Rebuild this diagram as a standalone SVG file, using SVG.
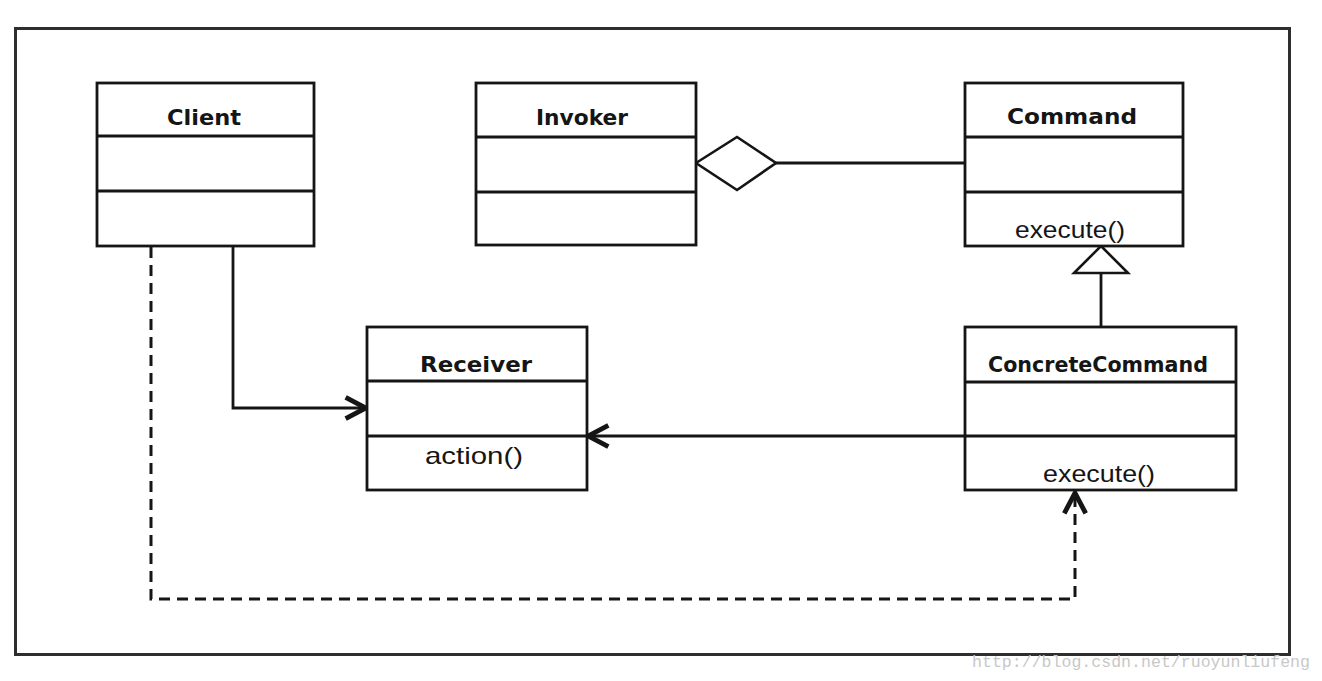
<svg xmlns="http://www.w3.org/2000/svg" width="1322" height="681" viewBox="0 0 1322 681">
<style>
.box{fill:#fff;stroke:#151515;stroke-width:2.8}
.div{stroke:#151515;stroke-width:2.8}
.title{font-family:"DejaVu Sans",sans-serif;font-weight:bold;font-size:22px;fill:#151515;text-anchor:middle}
.op{font-family:"Liberation Sans",Arial,sans-serif;font-size:24px;fill:#151515;text-anchor:middle}
.ln{fill:none;stroke:#151515;stroke-width:2.8}
.dash{fill:none;stroke:#151515;stroke-width:3;stroke-dasharray:11 7}
</style>
<defs>
<marker id="open" markerUnits="userSpaceOnUse" markerWidth="30" markerHeight="30" viewBox="-24 -14 28 28" refX="0" refY="0" orient="auto">
<polyline points="-19,-10 0,0 -19,10" fill="none" stroke="#151515" stroke-width="4.5" stroke-linejoin="miter"/>
</marker>
</defs>
<rect width="1322" height="681" fill="#fff"/>
<rect x="15.5" y="28.5" width="1274" height="626" fill="none" stroke="#2e2e2e" stroke-width="3"/>
<text x="1141" y="667" font-family="'Liberation Mono',monospace" font-size="17" fill="#c8c8c8" text-anchor="middle" textLength="338" lengthAdjust="spacingAndGlyphs">http://blog.csdn.net/ruoyunliufeng</text>
<g id="connectors">
<polyline class="ln" points="233,246 233,408 366,408" marker-end="url(#open)"/>
<line class="ln" x1="965" y1="436" x2="588" y2="436" marker-end="url(#open)"/>
<polyline class="dash" points="151,247 151,599 1075,599 1075,493" marker-end="url(#open)"/>
<line class="ln" x1="775" y1="163" x2="965" y2="163"/>
<polygon points="696,163 737,137 776,163 737,190" fill="#fff" stroke="#151515" stroke-width="2.6"/>
<line class="ln" x1="1101" y1="272" x2="1101" y2="327"/>
<polygon points="1101,246 1128,273 1074,273" fill="#fff" stroke="#151515" stroke-width="2.6"/>
</g>
<g id="client">
<rect class="box" x="97" y="83" width="217" height="163"/>
<line class="div" x1="97" y1="136" x2="314" y2="136"/>
<line class="div" x1="97" y1="191" x2="314" y2="191"/>
<text class="title" x="204" y="125" textLength="74" lengthAdjust="spacingAndGlyphs">Client</text>
</g>
<g id="invoker">
<rect class="box" x="476" y="83" width="220" height="162"/>
<line class="div" x1="476" y1="137" x2="696" y2="137"/>
<line class="div" x1="476" y1="192" x2="696" y2="192"/>
<text class="title" x="582" y="125" textLength="92" lengthAdjust="spacingAndGlyphs">Invoker</text>
</g>
<g id="command">
<rect class="box" x="965" y="83" width="218" height="163"/>
<line class="div" x1="965" y1="137" x2="1183" y2="137"/>
<line class="div" x1="965" y1="192" x2="1183" y2="192"/>
<text class="title" x="1072" y="124" textLength="130" lengthAdjust="spacingAndGlyphs">Command</text>
<text class="op" x="1070" y="238" textLength="110" lengthAdjust="spacingAndGlyphs">execute()</text>
</g>
<g id="receiver">
<rect class="box" x="367" y="327" width="220" height="163"/>
<line class="div" x1="367" y1="381" x2="587" y2="381"/>
<line class="div" x1="367" y1="436" x2="587" y2="436"/>
<text class="title" x="476" y="372" textLength="112" lengthAdjust="spacingAndGlyphs">Receiver</text>
<text class="op" x="474" y="464" textLength="98" lengthAdjust="spacingAndGlyphs">action()</text>
</g>
<g id="concretecommand">
<rect class="box" x="965" y="327" width="271" height="163"/>
<line class="div" x1="965" y1="382" x2="1236" y2="382"/>
<line class="div" x1="965" y1="436" x2="1236" y2="436"/>
<text class="title" x="1098" y="372" textLength="220" lengthAdjust="spacingAndGlyphs">ConcreteCommand</text>
<text class="op" x="1099" y="482" textLength="112" lengthAdjust="spacingAndGlyphs">execute()</text>
</g>
</svg>
